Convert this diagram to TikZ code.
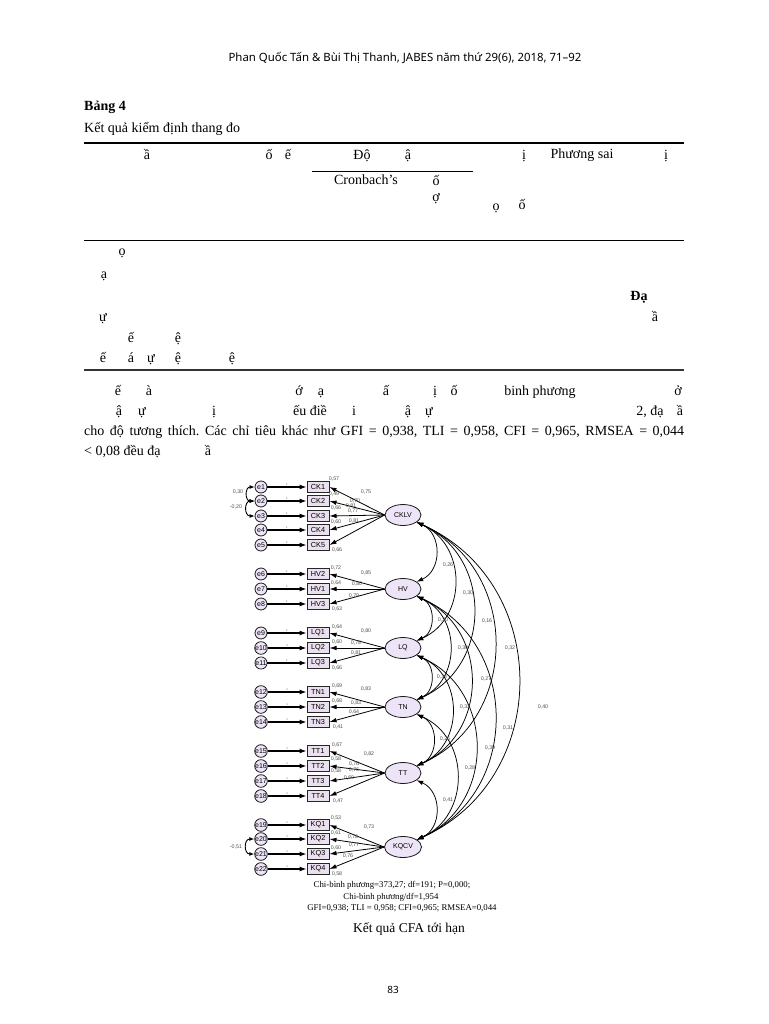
\documentclass[tikz,border=0pt]{standalone}
\usepackage{fontspec}
\setmainfont{Liberation Serif}
\newfontfamily\hdrfont{Noto Sans}
\newfontfamily\dgfont{Liberation Sans}
\usetikzlibrary{arrows.meta,shapes.geometric}
\definecolor{lav}{RGB}{238,228,247}
\definecolor{lavbox}{RGB}{234,224,240}
\definecolor{numcol}{RGB}{80,80,70}
\frenchspacing
\begin{document}
\begin{tikzpicture}[x=1pt,y=-1pt,
  tx/.style={inner sep=0pt,anchor=mid,font=\fontsize{14}{14}\selectfont},
  txb/.style={inner sep=0pt,anchor=mid,font=\fontsize{14}{14}\selectfont\bfseries},
  errc/.style={circle,draw=black!90,fill=lav,minimum size=12pt,inner sep=0pt,line width=0.8pt,font=\dgfont\fontsize{7}{7}\selectfont},
  obs/.style={rectangle,draw=black!85,fill=lavbox,minimum width=22pt,minimum height=11pt,inner sep=0pt,line width=1pt,font=\dgfont\fontsize{7.3}{7.3}\selectfont},
  lat/.style={ellipse,draw=black!90,fill=lav,minimum width=36pt,minimum height=21pt,inner sep=0pt,line width=0.8pt,font=\dgfont\fontsize{7}{7}\selectfont},
  earr/.style={-{Latex[length=7pt,width=5pt]},line width=1.1pt},
  arr/.style={-{Latex[length=7pt,width=4.6pt]},line width=0.8pt},
  cov/.style={{Latex[length=6.5pt,width=4.6pt]}-{Latex[length=6.5pt,width=4.6pt]},line width=0.75pt,bend left=66,looseness=1.2},
  ecov/.style={{Latex[length=5pt,width=4pt]}-{Latex[length=5pt,width=4pt]},line width=0.9pt,out=180,in=180,looseness=1.8},
  num/.style={inner sep=0pt,font=\dgfont\fontsize{5.3}{5.3}\selectfont,text=numcol},
  one/.style={inner sep=0pt,font=\dgfont\fontsize{2.8}{2.8}\selectfont,text=black!60},
  figtxt/.style={inner sep=0pt,font=\fontsize{8.8}{8.8}\selectfont},
  rule/.style={line width=1.2pt}
]
\useasboundingbox (0,0) rectangle (768,1024);
\fill[white] (0,0) rectangle (768,1024);

% ---------- running head ----------
\node[inner sep=0pt,font=\hdrfont\fontsize{11.4}{11.4}\selectfont] (hdr) at (405,58) {Phan Quốc Tấn \& Bùi Thị Thanh, JABES năm thứ 29(6), 2018, 71–92};

% ---------- table ----------
\node[txb,anchor=mid west] (tabno) at (84,108) {Bảng 4};
\node[tx,anchor=mid west] (tabtitle) at (84,130) {Kết quả kiểm định thang đo};
\coordinate (r1a) at (84,143); \coordinate (r1b) at (684,143);
\coordinate (r2a) at (312,171); \coordinate (r2b) at (473,171);
\coordinate (r3a) at (84,240); \coordinate (r3b) at (684,240);
\coordinate (r4a) at (84,370); \coordinate (r4b) at (684,370);
\draw[rule] (r1a) -- (r1b);
\draw[line width=0.9pt] (r2a) -- (r2b);
\draw[line width=1pt] (r3a) -- (r3b);
\draw[line width=1.7pt,black!80] (r4a) -- (r4b);

\node[tx] (h1) at (147,157) {ầ};
\node[tx] (h2) at (269,157) {ố};
\node[tx] (h3) at (288,157) {ế};
\node[tx] (h4) at (362,157) {Độ};
\node[tx] (h5) at (408,157) {ậ};
\node[tx] (h6) at (524,157) {ị};
\node[tx] (h7) at (582,156) {Phương sai};
\node[tx] (h8) at (666,157) {ị};
\node[tx] (h9) at (366,182) {Cronbach’s};
\node[tx] (h10) at (436,183) {ố};
\node[tx] (h11) at (436,199) {ợ};
\node[tx] (h12) at (496,208) {ọ};
\node[tx] (h13) at (522,207) {ố};

\node[tx] (b1) at (122,253) {ọ};
\node[tx] (b2) at (104,276) {ạ};
\node[txb] (b3) at (639,298) {Đạ};
\node[tx] (b4) at (103,319) {ự};
\node[tx] (b5) at (655,319) {ầ};
\node[tx] (b6) at (131,340) {ế};
\node[tx] (b7) at (178,340) {ệ};
\node[tx] (b8) at (103,360) {ế};
\node[tx] (b9) at (131,360) {á};
\node[tx] (b10) at (151,360) {ự};
\node[tx] (b11) at (178,360) {ệ};
\node[tx] (b12) at (232,360) {ệ};

% ---------- paragraph ----------
\node[tx] (p1) at (118,393) {ế};
\node[tx] (p2) at (149,393) {à};
\node[tx] (p3) at (299,393) {ớ};
\node[tx] (p4) at (321,393) {ạ};
\node[tx] (p5) at (386,393) {ấ};
\node[tx] (p6) at (435,393) {ị};
\node[tx] (p7) at (454,393) {ố};
\node[tx] (p8) at (540,393) {binh phương};
\node[tx] (p9) at (678,393) {ở};
\node[tx] (q1) at (119,413) {ậ};
\node[tx] (q2) at (142,413) {ự};
\node[tx] (q3) at (214,413) {ị};
\node[tx] (q4) at (310,413) {ếu điề};
\node[tx] (q5) at (354,413) {i};
\node[tx] (q6) at (408,413) {ậ};
\node[tx] (q7) at (429,413) {ự};
\node[tx] (q8) at (650,413) {2, đạ};
\node[tx] (q9) at (680,413) {ầ};
\node[tx,anchor=mid west] (l3) at (84,433) {\makebox[600pt][s]{cho độ tương thích. Các chỉ tiêu khác như GFI = 0,938, TLI = 0,958, CFI = 0,965, RMSEA = 0,044}};
\node[tx,anchor=mid west] (l4) at (84,453) {< 0,08 đều đạ};
\node[tx] (l4b) at (208,453) {ầ};

% ---------- CFA diagram: latent factors ----------
\node[lat] (CKLV) at (403,515) {CKLV};
\node[lat] (HV) at (403,589) {HV};
\node[lat] (LQ) at (403,648) {LQ};
\node[lat] (TN) at (403,707) {TN};
\node[lat] (TT) at (403,773) {TT};
\node[lat,minimum width=37pt] (KQCV) at (403,847) {KQCV};

% indicators, errors, arrows
\foreach \ind/\yy/\err/\lt in {CK1/487/e1/CKLV,CK2/501/e2/CKLV,CK3/516/e3/CKLV,CK4/530/e4/CKLV,CK5/545/e5/CKLV,
  HV2/574/e6/HV,HV1/589/e7/HV,HV3/604/e8/HV,
  LQ1/633/e9/LQ,LQ2/648/e10/LQ,LQ3/663/e11/LQ,
  TN1/692/e12/TN,TN2/707/e13/TN,TN3/722/e14/TN,
  TT1/751/e15/TT,TT2/766/e16/TT,TT3/781/e17/TT,TT4/796/e18/TT,
  KQ1/825/e19/KQCV,KQ2/839/e20/KQCV,KQ3/854/e21/KQCV,KQ4/869/e22/KQCV}{
  \node[obs] (\ind) at (318,\yy) {\ind};
  \node[errc] (\err) at (261,\yy) {\err};
  \draw[earr] (\err) -- node[one,above=1.4pt,pos=0.5] (w\err) {1} (\ind);
  \draw[arr] (\lt.west) -- (\ind.east);
}

% error covariances
\draw[ecov] (e1.west) to (e2.west);
\draw[ecov] (e2.west) to (e3.west);
\draw[ecov] (e20.west) to (e21.west);
\node[num] (c12) at (238,492) {0,30};
\node[num] (c23) at (236,507) {-0,20};
\node[num] (c2021) at (236,847) {-0,51};

% squared multiple correlations
\foreach \xx/\yy/\v [count=\i] in {334/479/0{,}57,334/494/0{,}49,336/508/0{,}66,336/522/0{,}60,337/550/0{,}66,
  336/568/0{,}72,336/583/0{,}64,337/609/0{,}63,
  337/627/0{,}64,337/642/0{,}60,337/668/0{,}66,
  337/686/0{,}69,337/701/0{,}68,338/727/0{,}41,
  337/745/0{,}67,336/759/0{,}58,336/771/0{,}58,338/801/0{,}47,
  336/818/0{,}53,336/833/0{,}61,336/848/0{,}60,337/874/0{,}58}{
  \node[num] (smc\i) at (\xx,\yy) {\v};
}
% standardized loadings
\foreach \xx/\yy/\v [count=\i] in {366/492/0{,}75,355/501/0{,}70,351/506/0{,}81,353/511/0{,}77,354/521/0{,}81,
  366/573/0{,}85,357/584/0{,}80,354/596/0{,}79,
  366/631/0{,}80,356/643/0{,}78,356/653/0{,}81,
  366/689/0{,}83,356/703/0{,}83,354/712/0{,}64,
  369/754/0{,}82,354/764/0{,}76,354/770/0{,}76,349/778/0{,}69,
  369/827/0{,}73,353/837/0{,}78,354/845/0{,}77,348/856/0{,}76}{
  \node[num] (ld\i) at (\xx,\yy) {\v};
}

% factor covariances
\draw[cov] (CKLV.-28) to (HV.28);
\draw[cov] (CKLV.-28) to (LQ.28);
\draw[cov] (CKLV.-28) to (TN.28);
\draw[cov] (CKLV.-28) to (TT.28);
\draw[cov] (CKLV.-28) to (KQCV.28);
\draw[cov] (HV.-28) to (LQ.28);
\draw[cov] (HV.-28) to (TN.28);
\draw[cov] (HV.-28) to (TT.28);
\draw[cov] (HV.-28) to (KQCV.28);
\draw[cov] (LQ.-28) to (TN.28);
\draw[cov] (LQ.-28) to (TT.28);
\draw[cov] (LQ.-28) to (KQCV.28);
\draw[cov] (TN.-28) to (TT.28);
\draw[cov] (TN.-28) to (KQCV.28);
\draw[cov] (TT.-28) to (KQCV.28);

\node[num] (k1) at (448,565) {0,26};
\node[num] (k2) at (468,593) {0,30};
\node[num] (k3) at (487,621) {0,16};
\node[num] (k4) at (510,648) {0,32};
\node[num] (k5) at (543,707) {0,40};
\node[num] (k6) at (443,620) {0,30};
\node[num] (k7) at (463,648) {0,30};
\node[num] (k8) at (486,679) {0,27};
\node[num] (k9) at (508,728) {0,31};
\node[num] (k10) at (442,677) {0,34};
\node[num] (k11) at (465,707) {0,33};
\node[num] (k12) at (490,748) {0,39};
\node[num] (k13) at (445,739) {0,26};
\node[num] (k14) at (470,768) {0,28};
\node[num] (k15) at (448,800) {0,41};

% fit indices and caption
\node[figtxt] (fit1) at (392,885) {Chi-bình phương=373,27; df=191; P=0,000;};
\node[figtxt] (fit2) at (391,897) {Chi-bình phương/df=1,954};
\node[figtxt] (fit3) at (402,908) {GFI=0,938; TLI = 0,958; CFI=0,965; RMSEA=0,044};
\node[inner sep=0pt,font=\fontsize{13.5}{13.5}\selectfont] (figcaption) at (409,929) {Kết quả CFA tới hạn};

% page number
\node[inner sep=0pt,font=\hdrfont\fontsize{10}{10}\selectfont] (pgno) at (393,990) {83};
\end{tikzpicture}
\end{document}
